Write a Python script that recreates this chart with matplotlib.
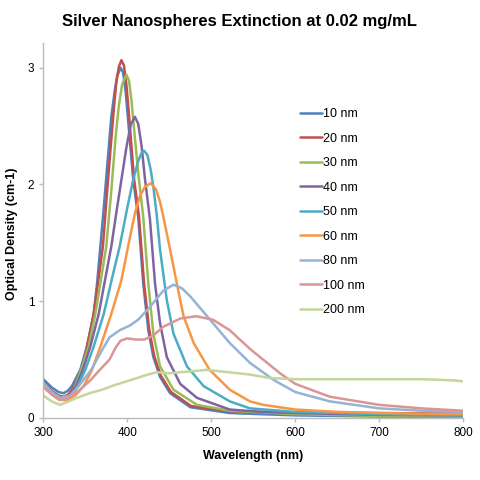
from matplotlib import pyplot as plt

plt.rcParams['font.family'] = ['Liberation Sans', 'DejaVu Sans']

# wavelength (nm), optical density
wl_10 = [300, 310, 318, 324, 329, 334, 344, 352, 360, 364, 368, 372, 376, 381, 385, 388, 392, 395, 398, 401,
         404, 407, 410, 413, 419, 425, 431, 439, 451, 475, 522, 560, 600, 700, 800]
od_10 = [0.33, 0.26, 0.22, 0.21, 0.23, 0.27, 0.41, 0.61, 0.89, 1.15, 1.47, 1.80, 2.15, 2.58, 2.80, 2.93, 3.00, 2.96, 2.80, 2.55,
         2.30, 2.05, 1.88, 1.72, 1.15, 0.75, 0.52, 0.35, 0.21, 0.09, 0.04, 0.03, 0.02, 0.01, 0.008]

wl_20 = [300, 310, 318, 324, 330, 336, 346, 352, 360, 366, 371, 375, 380, 384, 387, 390, 393, 396, 399, 402,
         408, 414, 420, 426, 432, 440, 452, 476, 522, 600, 700, 800]
od_20 = [0.31, 0.23, 0.19, 0.18, 0.20, 0.26, 0.41, 0.61, 0.89, 1.20, 1.47, 1.85, 2.30, 2.65, 2.88, 3.01, 3.065, 3.02, 2.85, 2.60,
         2.05, 1.72, 1.15, 0.76, 0.53, 0.36, 0.22, 0.10, 0.055, 0.045, 0.04, 0.035]

wl_30 = [300, 310, 318, 325, 331, 337, 345, 354, 362, 369, 375, 381, 386, 390, 394, 399, 402, 405, 408, 413,
         419, 425, 431, 439, 455, 483, 522, 600, 700, 800]
od_30 = [0.28, 0.20, 0.16, 0.15, 0.18, 0.25, 0.41, 0.61, 0.89, 1.20, 1.47, 1.95, 2.40, 2.68, 2.86, 2.94, 2.89, 2.72, 2.48, 2.10,
         1.72, 1.15, 0.72, 0.44, 0.24, 0.11, 0.06, 0.03, 0.015, 0.01]

wl_40 = [300, 310, 318, 325, 332, 339, 347, 356, 366, 374, 381, 387, 393, 399, 404, 409, 413, 417, 421, 427,
         433, 439, 447, 463, 483, 522, 560, 600, 700, 800]
od_40 = [0.30, 0.22, 0.17, 0.16, 0.19, 0.27, 0.41, 0.61, 0.89, 1.20, 1.47, 1.76, 2.04, 2.32, 2.51, 2.58, 2.52, 2.33, 2.05, 1.70,
         1.15, 0.81, 0.52, 0.29, 0.17, 0.07, 0.05, 0.04, 0.025, 0.02]

wl_50 = [300, 310, 318, 326, 334, 341, 350, 360, 372, 382, 391, 400, 407, 413, 417, 420, 424, 428, 431, 435,
         439, 447, 455, 471, 491, 522, 546, 600, 700, 800]
od_50 = [0.30, 0.22, 0.17, 0.16, 0.19, 0.27, 0.41, 0.61, 0.89, 1.20, 1.47, 1.80, 2.04, 2.20, 2.27, 2.29, 2.25, 2.12, 1.98, 1.74,
         1.44, 1.01, 0.72, 0.44, 0.27, 0.14, 0.08, 0.05, 0.03, 0.02]

wl_60 = [300, 310, 318, 328, 338, 348, 358, 368, 381, 393, 401, 409, 415, 421, 428, 434, 439, 443, 451, 459,
         467, 479, 498, 522, 546, 562, 600, 650, 700, 800]
od_60 = [0.28, 0.20, 0.16, 0.15, 0.19, 0.27, 0.41, 0.61, 0.89, 1.18, 1.47, 1.75, 1.90, 1.98, 2.01, 1.96, 1.85, 1.72, 1.44, 1.15,
         0.87, 0.64, 0.41, 0.24, 0.14, 0.11, 0.07, 0.05, 0.04, 0.03]

wl_80 = [300, 310, 320, 332, 342, 357, 370, 379, 391, 403, 413, 427, 443, 455, 465, 475, 495, 522,
         546, 575, 600, 641, 700, 750, 800]
od_80 = [0.30, 0.22, 0.17, 0.19, 0.27, 0.41, 0.58, 0.69, 0.75, 0.79, 0.84, 0.95, 1.09, 1.14, 1.11, 1.04, 0.87, 0.64,
         0.47, 0.32, 0.22, 0.14, 0.08, 0.06, 0.05]

wl_100 = [300, 310, 320, 330, 342, 356, 366, 379, 386, 392, 400, 410, 420, 430, 443, 463, 482, 502,
          522, 546, 582, 600, 641, 700, 750, 800]
od_100 = [0.26, 0.20, 0.15, 0.17, 0.23, 0.32, 0.40, 0.50, 0.60, 0.66, 0.68, 0.67, 0.67, 0.70, 0.78, 0.85, 0.87, 0.84,
          0.75, 0.59, 0.38, 0.29, 0.18, 0.11, 0.08, 0.06]

wl_200 = [300, 310, 320, 330, 340, 355, 370, 385, 403, 420, 435, 450, 463, 480, 494, 520, 546, 570,
          600, 650, 700, 750, 790, 800]
od_200 = [0.19, 0.14, 0.11, 0.14, 0.17, 0.21, 0.24, 0.28, 0.32, 0.36, 0.39, 0.38, 0.39, 0.40, 0.41, 0.39, 0.37, 0.34,
          0.33, 0.33, 0.33, 0.33, 0.32, 0.31]

labels = ["10 nm", "20 nm", "30 nm", "40 nm", "50 nm", "60 nm", "80 nm", "100 nm", "200 nm"]
colors = ["#4F81BD", "#C0504D", "#9BBB59", "#8064A2", "#4BACC6", "#F79646", "#95B3D7", "#DA9694", "#C3D69B"]
series = [(wl_10, od_10), (wl_20, od_20), (wl_30, od_30), (wl_40, od_40), (wl_50, od_50),
          (wl_60, od_60), (wl_80, od_80), (wl_100, od_100), (wl_200, od_200)]

fig = plt.figure(figsize=(4.8, 4.8), dpi=100)
ax = fig.add_axes([0.0902, 0.1298, 0.875, 0.78])

for (x, y), lab, c in zip(series, labels, colors):
    ax.plot(x, y, color=c, lw=1.8, label=lab, solid_joinstyle='round', solid_capstyle='round')

ax.set_xlim(300, 800)
ax.set_ylim(0, 3.21)
ax.set_xticks([300, 400, 500, 600, 700, 800])
ax.set_yticks([0, 1, 2, 3])
for s in ['top', 'right']:
    ax.spines[s].set_visible(False)
for s in ['left', 'bottom']:
    ax.spines[s].set_color('#BBBBBB')
    ax.spines[s].set_linewidth(1.0)
ax.tick_params(axis='both', colors='#BBBBBB', labelcolor='black', labelsize=8.5, length=3, width=1)

ax.set_xlabel("Wavelength (nm)", fontsize=9, fontweight='bold', labelpad=8)
ax.set_ylabel("Optical Density (cm-1)", fontsize=9, fontweight='bold')
ax.yaxis.set_label_coords(-0.06, 0.49)
fig.suptitle("Silver Nanospheres Extinction at 0.02 mg/mL", fontsize=12, fontweight='bold', x=0.5, y=0.97)

ax.legend(loc='upper left', bbox_to_anchor=(0.6, 0.84), frameon=False, fontsize=9,
          handlelength=1.7, handletextpad=0.15, labelspacing=1.0, borderaxespad=0)

fig.savefig("out.png", dpi=100)
